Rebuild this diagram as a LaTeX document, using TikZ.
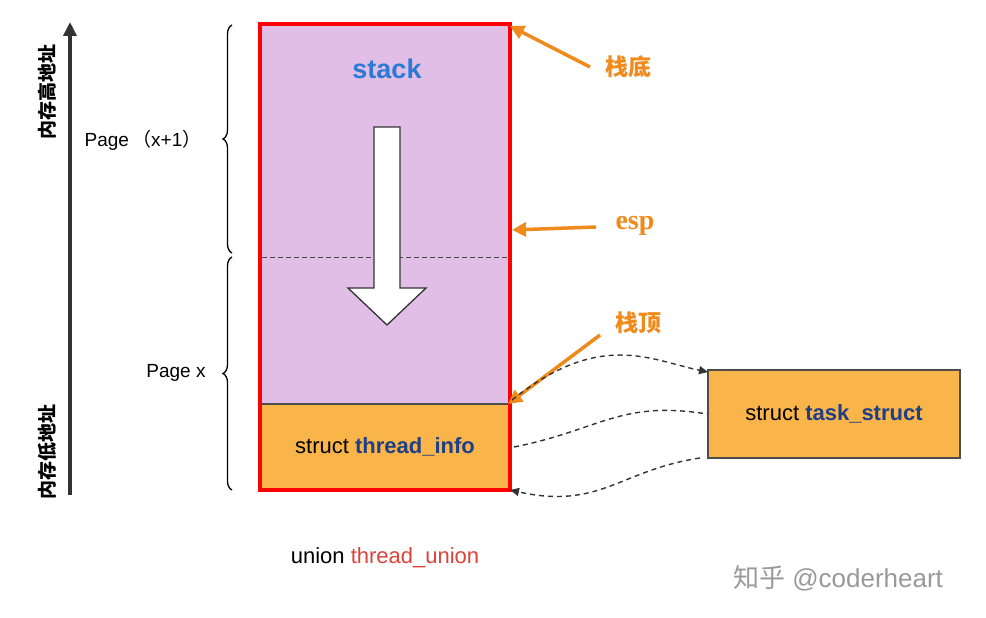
\documentclass[tikz,border=0pt]{standalone}
\usepackage{fontspec}
\setmainfont{Liberation Sans}
\newfontfamily\cjk{Noto Sans CJK SC}
\newfontfamily\serifb{Liberation Serif}
\usetikzlibrary{decorations.pathreplacing,arrows.meta}
\definecolor{purp}{HTML}{E0BEE6}
\definecolor{org}{HTML}{F9B44A}
\definecolor{oarr}{HTML}{F08A1C}
\definecolor{blu}{HTML}{2A7AD6}
\definecolor{dblu}{HTML}{1F3F86}
\definecolor{redt}{HTML}{D9433A}
\begin{document}
\begin{tikzpicture}[x=1pt,y=-1pt,
  lbl/.style={font=\fontsize{19}{19}\selectfont},
  olbl/.style={text=oarr,font=\cjk\bfseries\fontsize{23}{23}\selectfont},
  oarrow/.style={oarr,line width=3.5pt,-{Triangle[length=14pt,width=14pt]}},
  dcurve/.style={black!80,dash pattern=on 5pt off 4pt,line width=1.4pt},
  brace/.style={decorate,decoration={brace,amplitude=9pt},line width=1.3pt}]
\useasboundingbox (0,0) rectangle (986,618);
\node[draw=none,fill=purp,minimum width=250pt,minimum height=466pt,inner sep=0] (stk) at (385,257) {};
\node[draw=black!70,line width=1.5pt,fill=org,minimum width=250pt,minimum height=86pt,inner sep=0] (ti) at (385,447) {\fontsize{22}{22}\selectfont struct \textcolor{dblu}{\bfseries thread\_info}};
\draw[red,line width=3.5pt] (stk.north west) rectangle (stk.south east);
\draw[dash pattern=on 5pt off 3pt,black!70,line width=1pt] (262,257) -- (508,257);
\node[text=blu,font=\bfseries\fontsize{27}{27}\selectfont] (st) at (387,69) {stack};
\draw[fill=white,draw=black!80,line width=1.3pt] (374,127) -- (400,127) -- (400,288) -- (426,288) -- (387,325) -- (348,288) -- (374,288) -- cycle;
\coordinate (lo) at (70,495); \coordinate (hi) at (70,22);
\draw[black!80,line width=3.5pt,-{Triangle[length=14pt,width=13pt]}] (lo) -- (hi);
\node[rotate=90,font=\cjk\bfseries\fontsize{19}{19}\selectfont] (hl) at (47,92) {内存高地址};
\node[rotate=90,font=\cjk\bfseries\fontsize{19}{19}\selectfont] (ll) at (47,452) {内存低地址};
\draw[brace] (232,253) -- (232,25);
\draw[brace] (232,490) -- (232,257);
\node[lbl] (p1) at (143,140) {Page\,{\cjk（}x+1{\cjk）}};
\node[lbl] (p0) at (176,373) {Page x};
\node[olbl] (sd) at (628,67) {栈底};
\node[text=oarr,font=\serifb\bfseries\fontsize{28}{28}\selectfont] (esp) at (635,226) {esp};
\node[olbl] (sdg) at (638,323) {栈顶};
\coordinate (a1) at (510,26); \coordinate (a2) at (512,230); \coordinate (a3) at (508,404);
\draw[oarrow] (590,67) -- (a1);
\draw[oarrow] (596,227) -- (a2);
\draw[oarrow] (600,335) -- (a3);
\node[draw=black!70,line width=1.5pt,fill=org,minimum width=252pt,minimum height=88pt,inner sep=0] (ts) at (834,414) {\fontsize{22}{22}\selectfont struct \textcolor{dblu}{\bfseries task\_struct}};
\coordinate (c1) at (512,400); \coordinate (c2) at (514,447); \coordinate (c3) at (510,490);
\draw[dcurve,-{Triangle[length=9pt,width=8pt]}] (c1) .. controls (600,330) and (650,360) .. (708,372);
\draw[dcurve] (c2) .. controls (600,430) and (620,400) .. (ts.west);
\draw[dcurve,-{Triangle[length=9pt,width=8pt]}] (700,458) .. controls (620,470) and (600,510) .. (c3);
\node[font=\fontsize{22}{22}\selectfont] (un) at (385,558) {union \textcolor{redt}{thread\_union}};
\node[text=black!40,font=\fontsize{26}{26}\selectfont] (wm) at (838,578) {{\cjk 知乎} @coderheart};
\end{tikzpicture}
\end{document}
